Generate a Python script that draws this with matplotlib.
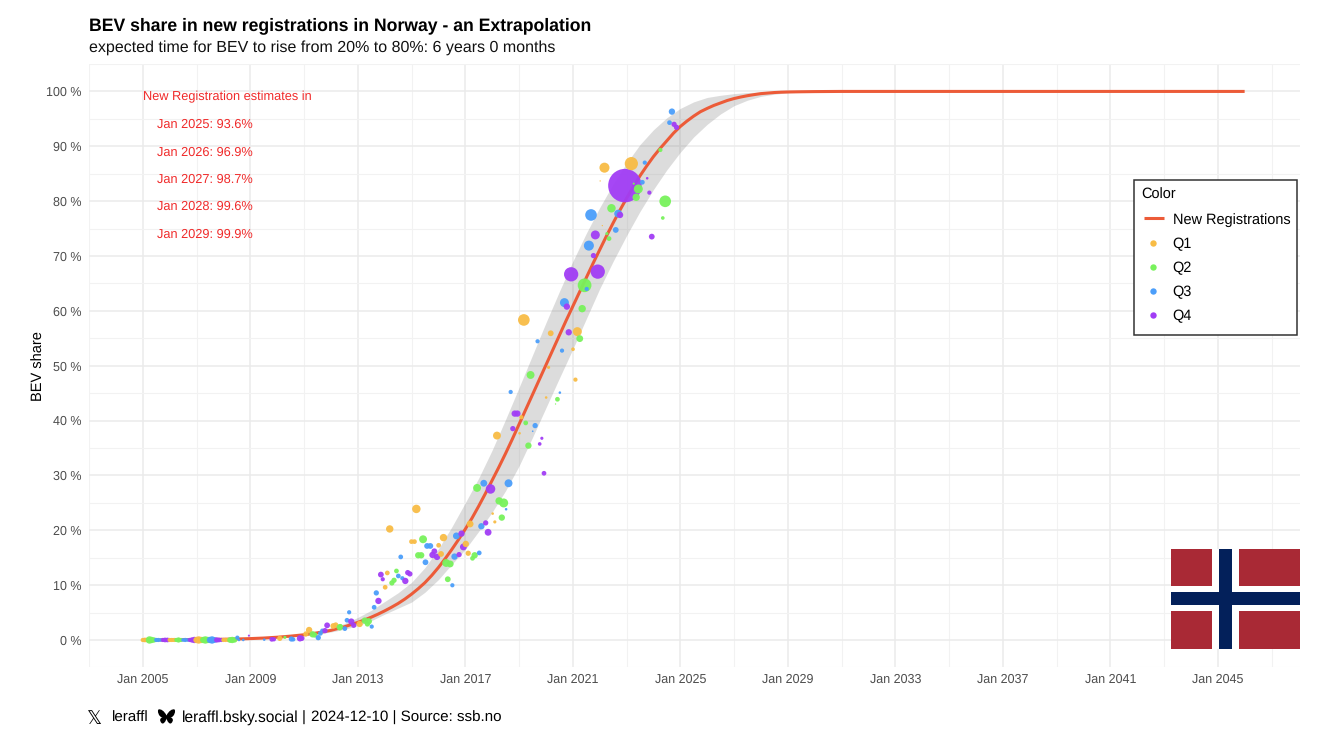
import numpy as np
import pandas as pd
import matplotlib
matplotlib.use("Agg")
import matplotlib.pyplot as plt
from matplotlib.legend_handler import HandlerLine2D
from matplotlib.lines import Line2D
from matplotlib.patches import PathPatch, Rectangle
from matplotlib.path import Path

plt.rcParams['font.family'] = ['Liberation Sans', 'DejaVu Sans']
plt.rcParams['text.hinting'] = 'none'

# fitted curve: half-yearly to 2012.5, quarterly to 2029
curve_dates = list(np.arange(2005, 2013, 0.5)) + list(np.arange(2013, 2029.25, 0.25)) + [2029.5, 2030, 2031, 2046]
curve_share = [0.0, 0.0, 0.03, 0.05, 0.07, 0.1, 0.13, 0.18, 0.25, 0.35, 0.5, 0.7, 0.95, 1.3, 1.75, 2.4,
               3.2, 3.65, 4.15, 4.7,
               5.3, 5.95, 6.65, 7.45,
               8.35, 9.35, 10.45, 11.75,
               13.2, 14.8, 16.5, 18.3,
               20.2, 22.2, 24.4, 26.7,
               29.1, 31.5, 34.0, 36.6,
               39.3, 42.0, 44.7, 47.4,
               50.1, 52.8, 55.5, 58.2,
               60.8, 63.4, 66.0, 68.6,
               71.1, 73.6, 76.0, 78.3,
               80.5, 82.6, 84.6, 86.4,
               88.1, 89.6, 91.0, 92.4,
               93.6, 94.6, 95.5, 96.3,
               96.9, 97.45, 97.9, 98.35,
               98.7, 98.98, 99.22, 99.42,
               99.6, 99.7, 99.8, 99.86,
               99.9, 99.94, 99.97, 100.0, 100.0]

band_dates = list(np.arange(2009, 2029.5, 0.5)) + [2030, 2031]
band_upper = [0.3, 0.42, 0.6, 0.85, 1.15, 1.6, 2.2, 3.0, 4.1, 5.4, 7.0, 8.6, 10.5, 13.2, 16.6, 20.6,
              25.0, 29.5, 34.6, 40.2, 46.0, 51.9, 57.8, 63.5, 69.0, 74.1, 78.8, 83.1, 86.9, 90.3, 93.0,
              95.2, 96.9, 98.1, 98.9, 99.3, 99.6, 99.8, 99.9, 99.95, 100.0, 100.0, 100.0]
band_lower = [0.2, 0.3, 0.42, 0.6, 0.85, 1.1, 1.45, 1.95, 2.6, 3.5, 4.7, 5.8, 6.9, 8.7, 11.0, 13.8,
              16.5, 19.8, 23.3, 27.2, 31.7, 36.9, 42.3, 47.7, 53.0, 58.5, 64.0, 69.0, 73.7, 78.1, 82.1,
              85.7, 88.9, 91.7, 94.0, 95.9, 97.4, 98.4, 99.1, 99.5, 99.75, 99.95, 100.0]

# monthly observations: date, BEV share, registrations (relative)
q1_date = [2005.0, 2005.08, 2005.17, 2006.0, 2006.08, 2006.17, 2007.0, 2007.08, 2007.17, 2008.0, 2008.08, 2008.17,
           2010.1, 2011.07, 2011.19, 2012.09, 2012.18,
           2013.07, 2014.02, 2014.10, 2014.19, 2015.0, 2015.11, 2015.18, 2016.01, 2016.10, 2016.19, 2017.02,
           2017.11, 2017.18, 2018.02, 2018.10, 2018.18, 2019.02, 2019.09, 2019.18, 2020.01, 2020.10, 2020.18,
           2021.01, 2021.10, 2021.17, 2022.02, 2022.10, 2022.18, 2023.18]
q1_share = [0.0, 0.0, 0.0, 0.0, 0.0, 0.0, 0.0, 0.0, 0.0, 0.0, 0.0, 0.0,
            0.3, 1.09, 1.82, 2.55, 2.73,
            2.92, 9.61, 12.22, 20.24, 17.93, 17.93, 23.89, 17.26, 15.68, 18.66, 17.51,
            15.81, 21.15, 23.04, 21.52, 37.26, 37.68, 40.6, 58.34, 44.2, 49.7, 55.91,
            53.0, 47.46, 56.21, 83.68, 75.54, 86.1, 86.84]
q1_regs = [16, 20, 20, 16, 16, 16, 36, 49, 36, 16, 16, 16,
           25, 25, 36, 30, 25,
           36, 20, 20, 49, 20, 20, 64, 20, 30, 49, 36,
           25, 42, 6, 9, 56, 6, 16, 121, 6, 9, 30,
           12, 16, 72, 1.5, 1.5, 90, 156]

q2_date = [2005.25, 2005.33, 2005.42, 2006.25, 2006.33, 2006.42, 2007.25, 2007.33, 2007.42, 2008.25, 2008.33, 2008.42,
           2010.29, 2011.32, 2011.4, 2012.33,
           2012.35, 2013.26, 2013.36, 2013.41, 2014.27, 2014.35, 2014.44, 2015.25, 2015.36, 2015.43, 2016.29,
           2016.35, 2016.44, 2017.27, 2017.35, 2017.44, 2018.26, 2018.36, 2018.43, 2019.25, 2019.35, 2019.43,
           2020.36, 2020.43, 2021.26, 2021.35, 2021.44, 2022.27, 2022.35, 2022.44, 2023.27, 2023.36, 2023.44,
           2024.26, 2024.35, 2024.44]
q2_share = [0.0, 0.0, 0.0, 0.0, 0.0, 0.0, 0.0, 0.0, 0.0, 0.0, 0.0, 0.0,
            0.48, 1.03, 0.91, 2.31,
            2.44, 3.53, 2.92, 3.41, 10.4, 10.88, 12.58, 15.44, 15.44, 18.36, 14.04,
            11.07, 13.86, 14.89, 15.44, 27.72, 25.35, 22.31, 24.98, 39.57, 35.43, 48.31,
            43.02, 43.88, 54.94, 60.4, 64.66, 74.08, 73.17, 78.7, 83.19, 80.7, 82.22,
            89.33, 76.93, 79.97]
q2_regs = [49, 36, 25, 16, 25, 16, 36, 49, 36, 30, 36, 25,
           9, 36, 25, 36,
           25, 36, 25, 36, 25, 25, 20, 36, 36, 56, 56,
           30, 42, 20, 36, 56, 49, 36, 72, 20, 36, 56,
           1.5, 20, 42, 49, 169, 9, 20, 64, 4, 49, 72,
           16, 12, 121]

q3_date = [2005.5, 2005.58, 2005.67, 2006.5, 2006.58, 2006.67, 2007.5, 2007.58, 2007.67, 2008.52, 2008.58, 2008.74,
           2009.52, 2010.53, 2010.6, 2011.53,
           2011.61, 2011.68, 2012.52, 2012.6, 2012.68, 2013.52, 2013.61, 2013.69, 2014.51, 2014.6, 2014.66,
           2015.52, 2015.58, 2015.7, 2016.52, 2016.6, 2016.67, 2017.52, 2017.6, 2017.69, 2018.52, 2018.61,
           2018.69, 2019.51, 2019.6, 2019.69, 2020.52, 2020.6, 2020.69, 2021.52, 2021.6, 2021.68, 2022.6,
           2022.69, 2023.59, 2023.68, 2024.6, 2024.69]
q3_share = [0.0, 0.0, 0.0, 0.0, 0.0, 0.0, 0.0, 0.0, 0.0, 0.42, 0.0, 0.0,
            0.06, 0.18, 0.1, 0.42,
            1.21, 1.7, 2.07, 3.59, 5.05, 2.44, 5.96, 8.58, 11.67, 15.14, 11.25,
            14.17, 17.14, 17.14, 9.97, 15.2, 18.97, 15.87, 20.73, 28.57, 23.83, 28.57,
            45.21, 38.05, 39.08, 54.45, 45.09, 52.75, 61.5, 63.99, 71.89, 77.48, 74.75,
            77.72, 83.44, 87.02, 94.31, 96.32]
q3_regs = [16, 16, 12, 12, 16, 12, 36, 49, 30, 16, 6, 6,
           6, 25, 16, 25,
           20, 16, 20, 20, 16, 16, 20, 25, 20, 20, 16,
           30, 30, 30, 16, 36, 42, 20, 36, 42, 6, 56,
           16, 2.5, 25, 16, 6, 16, 72, 16, 90, 121, 30,
           56, 20, 16, 20, 36]

q4_date = [2005.75, 2005.83, 2005.92, 2006.75, 2006.83, 2006.92, 2007.75, 2007.83, 2007.92, 2008.95,
           2009.8, 2009.88, 2010.85,
           2010.92, 2011.78, 2011.86, 2012.76, 2012.85, 2013.77, 2013.86, 2013.93, 2014.77, 2014.86, 2014.94,
           2015.78, 2015.85, 2015.95, 2016.77, 2016.86, 2016.93, 2017.76, 2017.85, 2017.94, 2018.77, 2018.84,
           2018.94, 2019.77, 2019.85, 2019.93, 2020.78, 2020.85, 2020.94, 2021.77, 2021.84, 2021.93, 2022.76,
           2022.94, 2023.77, 2023.85, 2023.94, 2024.77, 2024.86]
q4_share = [0.0, 0.0, 0.0, 0.0, 0.0, 0.0, 0.0, 0.0, 0.0, 0.79,
            0.12, 0.12, 0.3,
            0.3, 1.7, 2.67, 3.35, 2.68, 7.12, 11.92, 11.07, 10.76, 12.28, 12.04,
            15.5, 16.17, 15.14, 15.56, 19.39, 16.96, 21.34, 19.63, 27.53, 38.53, 41.27,
            41.27, 35.74, 36.77, 30.39, 60.77, 56.09, 66.66, 70.07, 73.84, 67.15, 77.48,
            82.83, 84.17, 81.55, 73.53, 94.0, 93.46]
q4_regs = [16, 20, 20, 16, 25, 36, 25, 20, 16, 4,
           20, 16, 36,
           25, 25, 30, 36, 25, 36, 30, 16, 36, 25, 25,
           36, 30, 36, 25, 36, 42, 25, 42, 81, 25, 36,
           36, 12, 9, 20, 36, 36, 182, 25, 72, 182, 36,
           1000, 6, 16, 30, 25, 25]

estimate_years = [2025, 2026, 2027, 2028, 2029]
estimate_share = [93.6, 96.9, 98.7, 99.6, 99.9]

x_ticks = list(range(2005, 2046, 4))
y_ticks = list(range(0, 101, 10))

quarter_colors = {'Q1': '#F8BC45', 'Q2': '#78F25C', 'Q3': '#4B9EFA', 'Q4': '#A13DF5'}
line_color = '#EC5B38'
W, H = 1330, 748


def fx(x):
    return x / W


def fy(y):
    return 1 - y / H


frames = []
for name, dates, share, regs in [('Q1', q1_date, q1_share, q1_regs), ('Q2', q2_date, q2_share, q2_regs),
                                 ('Q3', q3_date, q3_share, q3_regs), ('Q4', q4_date, q4_share, q4_regs)]:
    frames.append(pd.DataFrame({'date': dates, 'share': share, 'regs': regs, 'quarter': name}))
obs = pd.concat(frames).sort_values('date')

fig = plt.figure(figsize=(W / 100, H / 100), dpi=100, facecolor='white')
ax = fig.add_axes([fx(89), fy(667.4), fx(1300 - 89), (667.4 - 64) / H])
ax.set_xlim(2003, 2048.06)
ax.set_ylim(-5, 105)

for side in ax.spines.values():
    side.set_visible(False)

ax.set_xticks(x_ticks)
ax.set_xticklabels([f'Jan {y}' for y in x_ticks])
ax.set_xticks(list(range(2003, 2048, 4)), minor=True)
ax.set_yticks(y_ticks)
ax.set_yticklabels([f'{v} %' for v in y_ticks])
ax.set_yticks(list(range(-5, 106, 10)), minor=True)
ax.tick_params(which='both', length=0)
ax.tick_params(axis='x', which='major', labelsize=9.0, labelcolor='#4D4D4D', pad=4)
ax.tick_params(axis='y', which='major', labelsize=9.0, labelcolor='#4D4D4D', pad=5.7)
ax.grid(which='major', color='#EBEBEB', lw=1.1)
ax.grid(which='minor', color='#F2F2F2', lw=0.8)
ax.set_axisbelow(True)
ax.set_ylabel('BEV share', fontsize=10.5)
ax.yaxis.set_label_coords((45.5 - 89) / 1211, 0.5)

ax.fill_between(band_dates, band_lower, band_upper, color='#808080', alpha=0.27, lw=0, zorder=2)
ax.plot(curve_dates, curve_share, color=line_color, lw=2.2, zorder=3, solid_capstyle='butt')
ax.scatter(obs['date'], obs['share'], s=obs['regs'] * 0.58, c=obs['quarter'].map(quarter_colors),
           alpha=0.95, linewidths=0, zorder=4)

# estimates listed top left
ax.text(2005, 98.95, 'New Registration estimates in', color='#F02A2A', fontsize=9.2, va='center', ha='left')
for row, (yr, val) in enumerate(zip(estimate_years, estimate_share)):
    ax.text(2005.52, 93.95 - row * 5.0, f'Jan {yr}: {val}%', color='#F02A2A', fontsize=9.2,
            va='center', ha='left')

# legend, box drawn separately so its padding can be set
ax.add_patch(Rectangle((fx(1134), fy(335)), (1297 - 1134) / W, (335 - 179.5) / H, transform=fig.transFigure,
                       fc='white', ec='#333333', lw=1.1, clip_on=False, zorder=5))
line_handle = Line2D([], [], color=line_color, lw=2.2, solid_capstyle='butt', label='New Registrations')
handles = [line_handle]
for name, col in quarter_colors.items():
    handles.append(Line2D([], [], color=col, marker='o', ms=4.6, lw=0, mew=0, label=name))
leg = ax.legend(handles=handles, title='Color', loc='upper left', fontsize=10.45, title_fontsize=10.45,
                bbox_to_anchor=(fx(1134), fy(180.6)), bbox_transform=fig.transFigure, alignment='left',
                frameon=False, borderaxespad=0, borderpad=0.5, labelspacing=0.7, handlelength=1.6,
                handletextpad=0.57, handler_map={line_handle: HandlerLine2D(xpad=0.2)})
leg._legend_box.sep += 0.5
leg.set_zorder(6)

# flag in the lower right corner
flag_red = '#A92935'
flag_navy = '#03205A'
fig.add_artist(Rectangle((fx(1170.5), fy(649)), (1300 - 1170.5) / W, (649 - 548.7) / H, transform=fig.transFigure,
                         fc='white', ec='none', zorder=5))
for x0, x1, y0, y1, col in [(1170.5, 1211.5, 548.7, 586, flag_red), (1239, 1300, 548.7, 586, flag_red),
                            (1170.5, 1211.5, 611.3, 649, flag_red), (1239, 1300, 611.3, 649, flag_red),
                            (1218.5, 1232, 548.7, 649, flag_navy), (1170.5, 1300, 592.3, 605, flag_navy)]:
    fig.add_artist(Rectangle((fx(x0), fy(y1)), (x1 - x0) / W, (y1 - y0) / H, transform=fig.transFigure,
                             fc=col, ec='none', zorder=5))

# titles
fig.text(fx(89), fy(25.5), 'BEV share in new registrations in Norway - an Extrapolation', fontsize=12.7,
         fontweight='bold', va='center', ha='left')
fig.text(fx(89), fy(48), 'expected time for BEV to rise from 20% to 80%: 6 years 0 months', fontsize=11.57,
         va='center', ha='left', color='#111111')

# footer with handles
foot_y = fy(722)
fig.text(fx(86), fy(723.5), '\U0001D54F', fontsize=13.5, family='DejaVu Sans', va='baseline', ha='left')
fig.text(fx(112), foot_y, 'leraffl', fontsize=10.9, va='baseline', ha='left')
fig.text(fx(182), foot_y, 'leraffl.bsky.social', fontsize=11.2, va='baseline', ha='left')
fig.text(fx(302), foot_y, '|', fontsize=10.9, va='baseline', ha='left')
fig.text(fx(311), foot_y, '2024-12-10 | Source: ssb.no', fontsize=10.9, va='baseline', ha='left')

# butterfly icon
cx, cy = 166.5, 717
verts = [(0, -1.5), (-2, -6), (-6, -8.5), (-8, -7.5), (-9.5, -6.5), (-8, 0), (-4, 0.5),
         (-7, 1), (-7, 4), (-5, 6), (-3, 8), (-0.5, 4), (0, 1.5),
         (0.5, 4), (3, 8), (5, 6), (7, 4), (7, 1), (4, 0.5),
         (8, 0), (9.5, -6.5), (8, -7.5), (6, -8.5), (2, -6), (0, -1.5)]
codes = [Path.MOVETO] + [Path.CURVE4] * 24
wing_pts = [(fx(cx + vx), fy(cy + vy)) for vx, vy in verts]
fig.add_artist(PathPatch(Path(wing_pts, codes), transform=fig.transFigure, fc='black', ec='none'))

fig.savefig('out.png', dpi=100)
